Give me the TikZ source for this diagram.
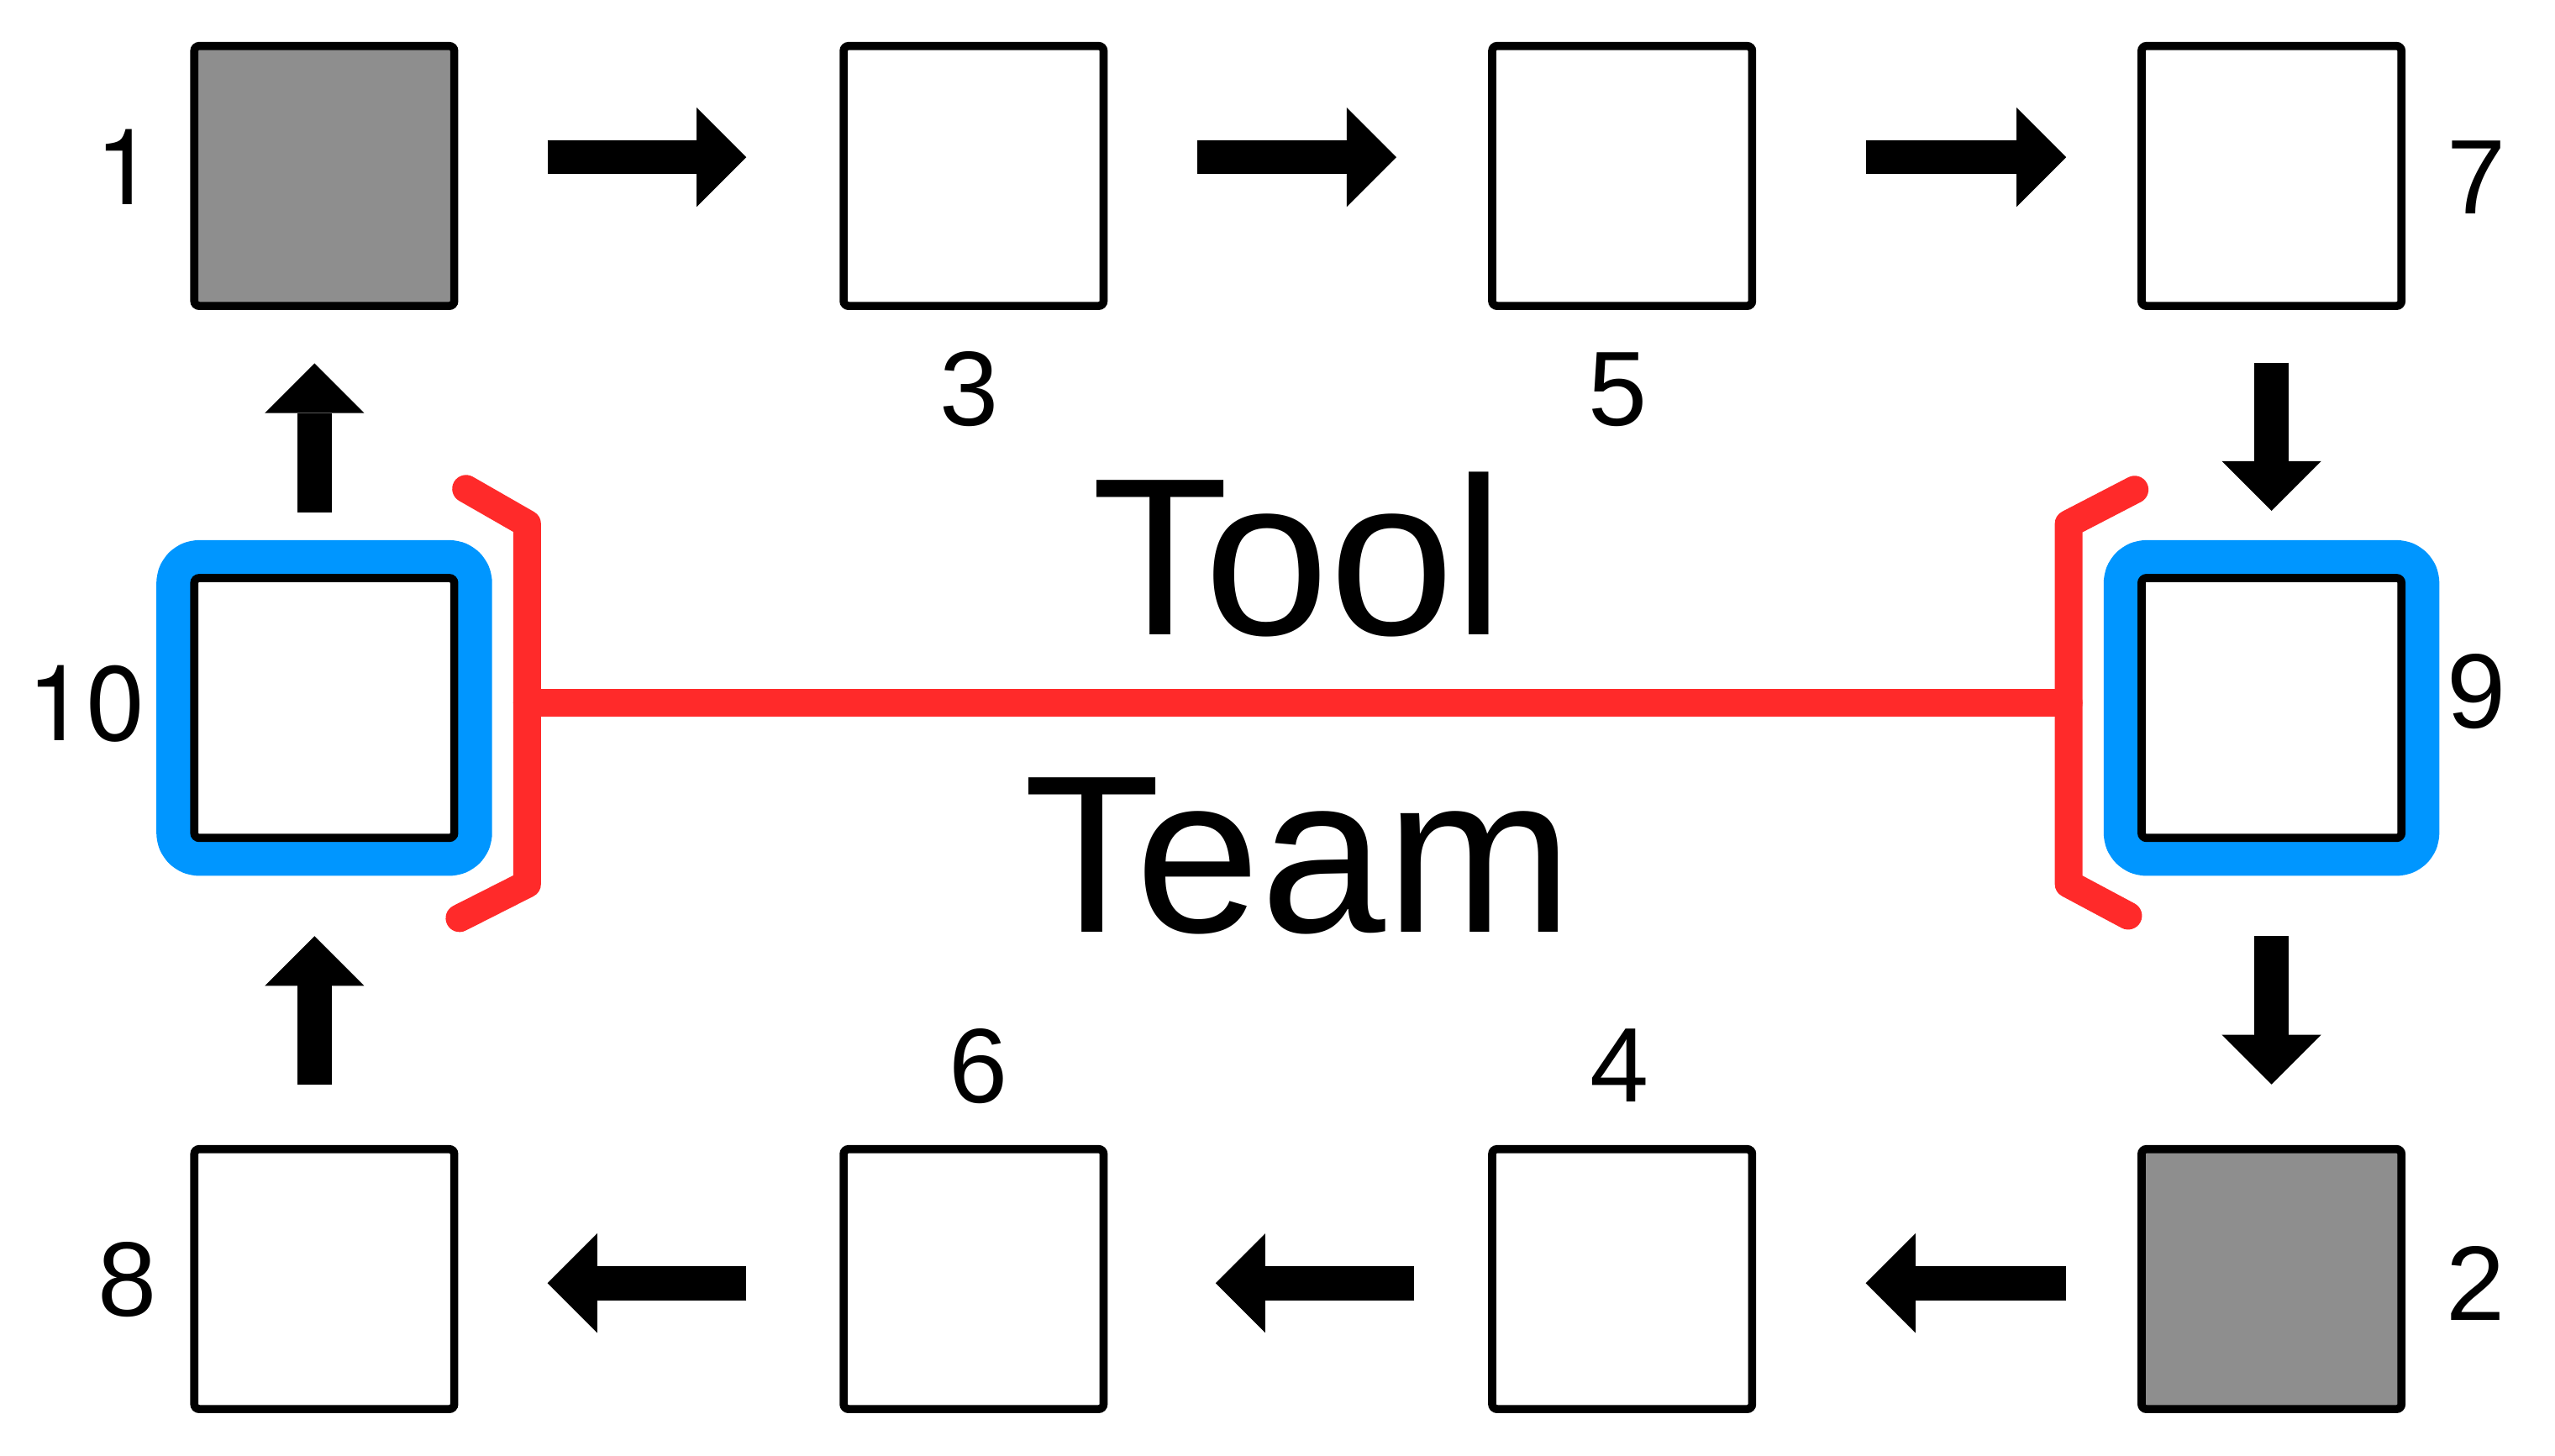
\documentclass[tikz,border=0pt]{standalone}
\usepackage{fontspec}
\setmainfont{Liberation Sans}
\newfontfamily\onefont{TeX Gyre Heros}
\usetikzlibrary{arrows.meta}
\definecolor{loopGray}{HTML}{8E8E8E}
\definecolor{loopBlue}{HTML}{0096FF}
\definecolor{loopRed}{HTML}{FF2A2A}
\tikzset{
  loop box/.style={rectangle, draw=black, fill=white, line width=0.1cm, minimum size=3.19cm, inner sep=0pt, rounded corners=0.06cm},
  loop start/.style={loop box, fill=loopGray},
  loop tool/.style={loop box, preaction={draw=loopBlue, line width=0.93cm, line join=round}},
  loop arrow/.style={draw=black, line width=0.42cm, -{Triangle[length=0.61cm, width=1.22cm, line width=0pt]}},
  loop link/.style={draw=loopRed, line width=0.34cm, line cap=round, line join=round},
  loop num/.style={font=\fontsize{37pt}{44pt}\selectfont, anchor=base, inner sep=0pt},
  loop word/.style={font=\fontsize{78.4pt}{94pt}\selectfont, anchor=base, inner sep=0pt},
}

\begin{document}
\begin{tikzpicture}
  \useasboundingbox (0,0) rectangle (31.36,17.87);

  % Top row
  \node[loop start] (b1) at (3.98,15.71) {};
  \node[loop box] (b3) at (11.95,15.71) {};
  \node[loop box] (b5) at (19.91,15.71) {};
  \node[loop box] (b7) at (27.88,15.71) {};
  % Middle row
  \node[loop tool] (b10) at (3.98,9.18) {};
  \node[loop tool] (b9) at (27.88,9.18) {};
  % Bottom row
  \node[loop box] (b8) at (3.98,2.17) {};
  \node[loop box] (b6) at (11.95,2.17) {};
  \node[loop box] (b4) at (19.91,2.17) {};
  \node[loop start] (b2) at (27.88,2.17) {};

  % Numbers
  \node[loop num] (n1) at (1.53,15.36) {\onefont 1};
  \node[loop num] (n3) at (11.9,12.65) {3};
  \node[loop num] (n5) at (19.86,12.65) {5};
  \node[loop num] (n7) at (30.4,15.25) {7};
  \node[loop num] (n10) at (1.06,8.78) {\onefont 10};
  \node[loop num] (n9) at (30.4,8.93) {9};
  \node[loop num] (n8) at (1.56,1.72) {8};
  \node[loop num] (n6) at (12.01,4.34) {6};
  \node[loop num] (n4) at (19.88,4.35) {4};
  \node[loop num] (n2) at (30.39,1.66) {2};

  % Arrows round the loop
  \draw[loop arrow] ([shift={(1.095,0.23)}]b1.east) -- ([shift={(-1.145,0.23)}]b3.west);
  \draw[loop arrow] ([shift={(1.105,0.23)}]b3.east) -- ([shift={(-1.125,0.23)}]b5.west);
  \draw[loop arrow] ([shift={(1.345,0.23)}]b5.east) -- ([shift={(-0.875,0.23)}]b7.west);
  \draw[loop arrow] ([shift={(0,-0.645)}]b7.south) -- ([shift={(0,0.775)}]b9.north);
  \draw[loop arrow] ([shift={(0,-1.155)}]b9.south) -- ([shift={(0,0.745)}]b2.north);
  \draw[loop arrow] ([shift={(-0.875,-0.05)}]b2.west) -- ([shift={(1.345,-0.05)}]b4.east);
  \draw[loop arrow] ([shift={(-0.905,-0.05)}]b4.west) -- ([shift={(1.325,-0.05)}]b6.east);
  \draw[loop arrow] ([shift={(-1.145,-0.05)}]b6.west) -- ([shift={(1.095,-0.05)}]b8.east);
  \draw[loop arrow] ([shift={(-0.12,0.745)}]b8.north) -- ([shift={(-0.12,-1.155)}]b10.south);
  \draw[loop arrow] ([shift={(-0.12,0.755)}]b10.north) -- ([shift={(-0.12,-0.655)}]b1.south);

  % Tool / Team link
  \coordinate (linkL) at (6.47,9.24);
  \coordinate (linkR) at (25.39,9.24);
  \draw[loop link] (5.72,11.87) -- (6.47,11.44) -- (6.47,7.02) -- (5.64,6.6);
  \draw[loop link] (26.2,11.86) -- (25.39,11.44) -- (25.39,7.02) -- (26.12,6.63);
  \draw[loop link] (linkL) -- (linkR);
  \node[loop word] (tool) at (15.93,10.08) {Tool};
  \node[loop word] (team) at (15.93,6.43) {Team};
\end{tikzpicture}
\end{document}
